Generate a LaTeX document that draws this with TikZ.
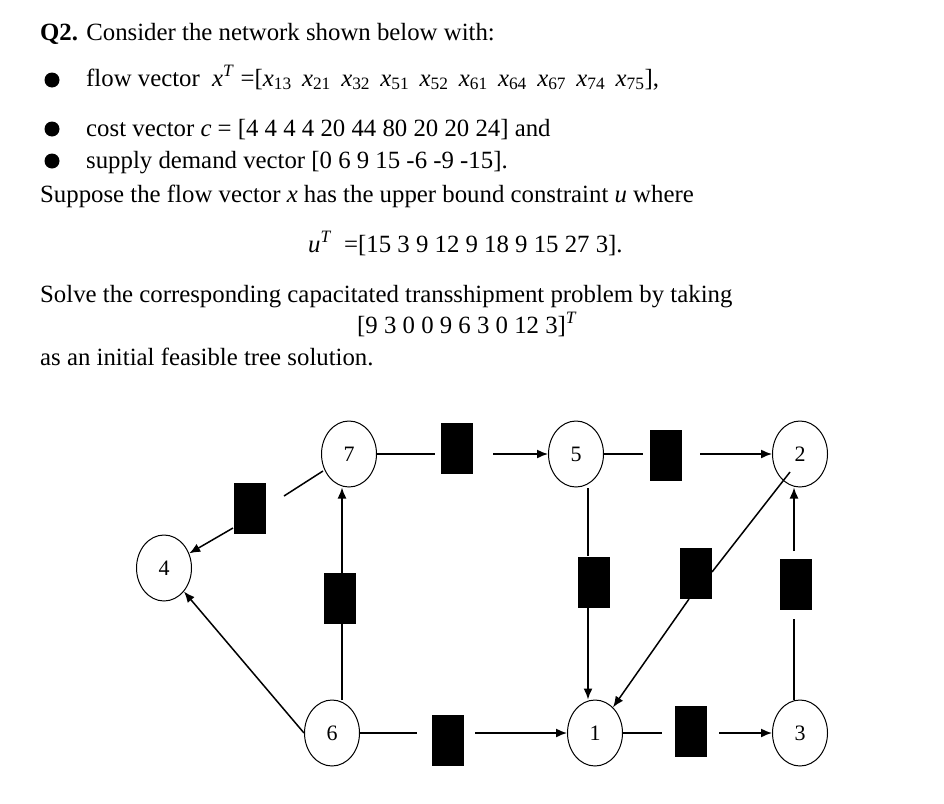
\documentclass[tikz,border=0pt]{standalone}
\usepackage{fontspec}
\setmainfont{Liberation Serif}
\begin{document}
\begin{tikzpicture}[x=1pt,y=-1pt,
  txt/.style={anchor=base west,inner sep=0pt,font=\fontsize{24.8}{27}\selectfont},
  nd/.style={draw,line width=1pt,ellipse,minimum width=55pt,minimum height=66pt,inner sep=0pt,font=\fontsize{22}{24}\selectfont},
  bx/.style={fill=black,minimum width=32pt,minimum height=51pt,inner sep=0pt},
  ln/.style={line width=1.5pt},
  ar/.style={line width=1.5pt,-{Latex[length=11pt,width=9pt]}},
  bul/.style={circle,fill=black,minimum size=15pt,inner sep=0pt}]
\useasboundingbox (0,0) rectangle (944,803);
\usetikzlibrary{shapes.geometric,arrows.meta}
\node[txt] (t1) at (40,40) {\textbf{Q2.} Consider the network shown below with:};
\node[bul] (b1) at (52,80) {};
\node[txt] (t2) at (86,86) {flow vector\enspace\textit{x}\textsuperscript{\textit{T}} =[\textit{x}\textsubscript{13}\, \textit{x}\textsubscript{21}\, \textit{x}\textsubscript{32}\, \textit{x}\textsubscript{51}\, \textit{x}\textsubscript{52}\, \textit{x}\textsubscript{61}\, \textit{x}\textsubscript{64}\, \textit{x}\textsubscript{67}\, \textit{x}\textsubscript{74}\, \textit{x}\textsubscript{75}],};
\node[bul] (b2) at (52,129) {};
\node[txt] (t3) at (86,136) {cost vector \textit{c} = [4 4 4 4 20 44 80 20 20 24] and};
\node[bul] (b3) at (52,161) {};
\node[txt] (t4) at (86,168) {supply demand vector [0 6 9 15 -6 -9 -15].};
\node[txt] (t5) at (40,202) {Suppose the flow vector \textit{x} has the upper bound constraint \textit{u} where};
\node[txt] (t6) at (308,252) {\textit{u}\textsuperscript{\textit{T}}\enspace =[15 3 9 12 9 18 9 15 27 3].};
\node[txt] (t7) at (40,302) {Solve the corresponding capacitated transshipment problem by taking};
\node[txt] (t8) at (357,333) {[9 3 0 0 9 6 3 0 12 3]\textsuperscript{\textit{T}}};
\node[txt] (t9) at (40,365) {as an initial feasible tree solution.};

\node[nd] (n7) at (349,454) {7};
\node[nd] (n5) at (576,454) {5};
\node[nd] (n2) at (800,454) {2};
\node[nd] (n4) at (164,568) {4};
\node[nd] (n6) at (332,733) {6};
\node[nd] (n1) at (595,733) {1};
\node[nd] (n3) at (800,733) {3};

\node[bx] (k75) at (457,448) {};
\node[bx] (k52) at (666,455) {};
\node[bx] (k74) at (250,508) {};
\node[bx] (k67) at (340,598) {};
\node[bx] (k51) at (594,582) {};
\node[bx] (k21) at (696,573) {};
\node[bx] (k32) at (796,584) {};
\node[bx] (k61) at (448,740) {};
\node[bx] (k13) at (691,731) {};

\coordinate (a1) at (435,454); \coordinate (a2) at (493,454);
\coordinate (b1c) at (643,454); \coordinate (b2c) at (700,454);
\coordinate (c0) at (323,471); \coordinate (c1) at (284,496); \coordinate (c2) at (233,528);
\coordinate (d0) at (342,700); \coordinate (d1) at (342,624); \coordinate (d2) at (342,573);
\coordinate (e0) at (588,488); \coordinate (e1) at (588,556); \coordinate (e2) at (588,608);
\coordinate (f0) at (790,472); \coordinate (f1) at (712,572); \coordinate (f2) at (689,599);
\coordinate (g0) at (794,700); \coordinate (g1) at (794,619); \coordinate (g2) at (794,551);
\coordinate (h1) at (417,733); \coordinate (h2) at (475,733);
\coordinate (i1) at (662,733); \coordinate (i2) at (719,733);

\draw[ln] (n7) -- (a1); \draw[ar] (a2) -- (n5);
\draw[ln] (n5) -- (b1c); \draw[ar] (b2c) -- (n2);
\draw[ln] (c0) -- (c1); \draw[ar] (c2) -- (n4);
\draw[ln] (d0) -- (d1); \draw[ar] (d2) -- (d2 |- n7.south);
\draw[ar] (n6.west) -- (n4);
\draw[ln] (e0) -- (e1); \draw[ar] (e2) -- (e2 |- n1.north);
\draw[ln] (f0) -- (f1); \draw[ar] (f2) -- (n1);
\draw[ln] (g0) -- (g1); \draw[ar] (g2) -- (g2 |- n2.south);
\draw[ln] (n6) -- (h1); \draw[ar] (h2) -- (n1);
\draw[ln] (n1) -- (i1); \draw[ar] (i2) -- (n3);
\end{tikzpicture}
\end{document}
